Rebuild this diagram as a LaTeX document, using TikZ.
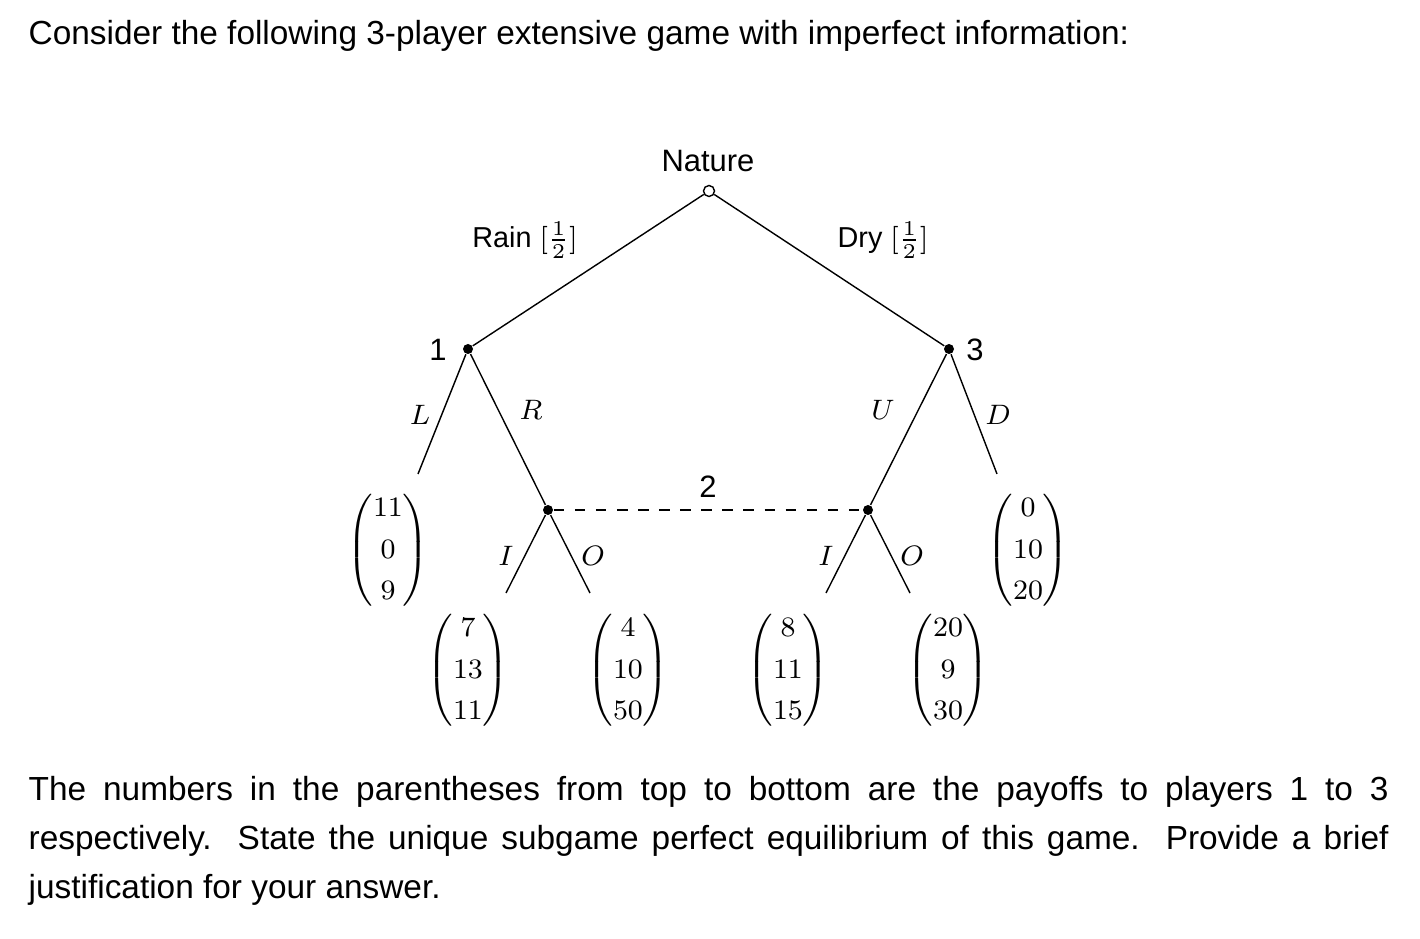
\documentclass[tikz,border=0pt]{standalone}
\usepackage{amsmath}
\usepackage{fontspec}
\setmainfont{Liberation Sans}
\begin{document}
\begin{tikzpicture}[x=1cm, y=1cm,
    dec/.style={circle, fill, inner sep=0pt, minimum size=0.1cm},
    chance/.style={circle, draw, fill=white, inner sep=0pt, minimum size=0.11cm},
    pay/.style={inner sep=0pt, font=\fontsize{7.6}{9.2}\selectfont},
    lbl/.style={inner sep=0pt, font=\fontsize{8.8}{10}\selectfont},
    act/.style={inner sep=0pt, font=\fontsize{8.2}{10}\selectfont}]

    % frame of the page
    \useasboundingbox (0,0) rectangle (14.20,9.38);
    \renewcommand{\arraystretch}{1.28}

    % let's define some key values
    \def\ydec{5.89}
    \def\ytwo{4.28}
    \def\yleaf{3.45}

    % question text
    \node[anchor=base west, inner sep=0pt, font=\fontsize{9.5}{11}\selectfont]
        (question) at (0.28,8.93)
        {Consider the following 3-player extensive game with imperfect information:};

    % decision nodes
    \node[chance] (nature) at (7.09,7.47) {};
    \node[dec] (one) at (4.68,\ydec) {};
    \node[dec] (three) at (9.49,\ydec) {};
    \node[dec] (twoL) at (5.48,\ytwo) {};
    \node[dec] (twoR) at (8.68,\ytwo) {};

    % ends of terminal branches
    \coordinate (eL) at (4.18,4.64);
    \coordinate (eD) at (9.97,4.64);
    \coordinate (eLI) at (5.06,\yleaf);
    \coordinate (eLO) at (5.90,\yleaf);
    \coordinate (eRI) at (8.26,\yleaf);
    \coordinate (eRO) at (9.10,\yleaf);

    % branches
    \draw[thin] (nature) -- (one);
    \draw[thin] (nature) -- (three);
    \draw[thin] (one) -- (eL);
    \draw[thin] (one) -- (twoL);
    \draw[thin] (three) -- (twoR);
    \draw[thin] (three) -- (eD);
    \draw[thin] (twoL) -- (eLI);
    \draw[thin] (twoL) -- (eLO);
    \draw[thin] (twoR) -- (eRI);
    \draw[thin] (twoR) -- (eRO);

    % information set
    \draw[thin, dashed] (twoL) -- (twoR);

    % player labels
    \node[lbl] (tnature) at (7.08,7.77) {Nature};
    \node[lbl] (tone) at (4.38,5.88) {1};
    \node[lbl] (tthree) at (9.75,5.88) {3};
    \node[lbl] (ttwo) at (7.08,4.51) {2};

    % action labels
    \node[act] (train) at (5.25,6.98) {Rain $[\frac{1}{2}]$};
    \node[act] (tdry) at (8.83,6.98) {Dry $[\frac{1}{2}]$};
    \node[act] (tL) at (4.20,5.23) {$L$};
    \node[act] (tR) at (5.31,5.28) {$R$};
    \node[act] (tU) at (8.83,5.28) {$U$};
    \node[act] (tD) at (9.98,5.23) {$D$};
    \node[act] (tLI) at (5.06,3.82) {$I$};
    \node[act] (tLO) at (5.93,3.82) {$O$};
    \node[act] (tRI) at (8.26,3.82) {$I$};
    \node[act] (tRO) at (9.12,3.82) {$O$};

    % payoffs
    \node[pay] (pL) at (3.88,3.88) {$\begin{pmatrix}11\\0\\9\end{pmatrix}$};
    \node[pay] (pLI) at (4.68,2.68) {$\begin{pmatrix}7\\13\\11\end{pmatrix}$};
    \node[pay] (pLO) at (6.28,2.68) {$\begin{pmatrix}4\\10\\50\end{pmatrix}$};
    \node[pay] (pRI) at (7.88,2.68) {$\begin{pmatrix}8\\11\\15\end{pmatrix}$};
    \node[pay] (pRO) at (9.48,2.68) {$\begin{pmatrix}20\\9\\30\end{pmatrix}$};
    \node[pay] (pD) at (10.28,3.88) {$\begin{pmatrix}0\\10\\20\end{pmatrix}$};

    % closing text
    \node[anchor=north west, inner sep=0pt, text width=13.60cm, align=justify,
        font=\fontsize{9.5}{13.9}\selectfont] (task) at (0.28,1.62)
        {\hyphenpenalty=10000 The numbers in the parentheses from top to bottom are the payoffs to players 1 to 3\linebreak respectively.\ \ State the unique subgame perfect equilibrium of this game.\ \ Provide a brief\linebreak justification for your answer.};

\end{tikzpicture}
\end{document}
